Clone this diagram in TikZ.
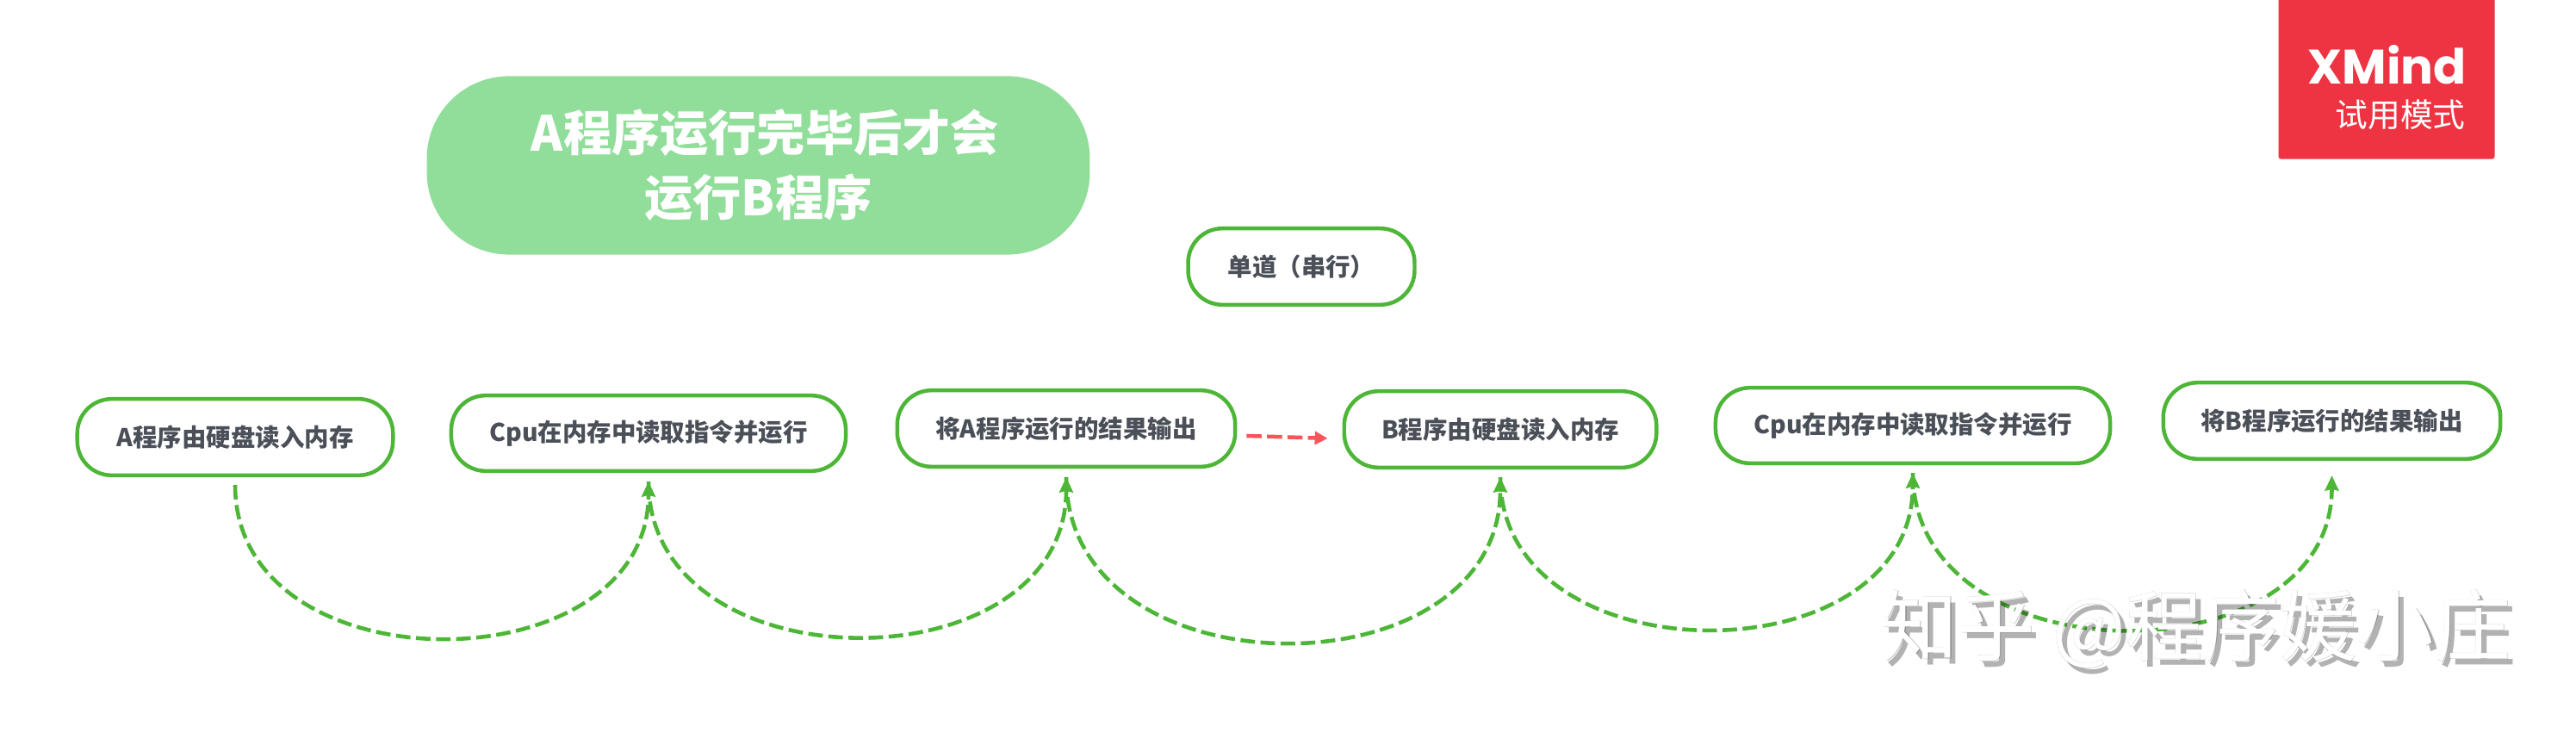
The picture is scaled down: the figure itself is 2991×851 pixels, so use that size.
\documentclass[tikz,border=0pt]{standalone}
\usepackage{fontspec}
\usetikzlibrary{arrows.meta}
\setmainfont{Noto Sans CJK SC}
\newfontfamily\xmfont{Poppins}
\newfontfamily\wmedgefont[FakeBold=0.5]{Noto Sans CJK SC}
\definecolor{grn}{HTML}{4DB637}
\definecolor{lgrn}{HTML}{91DE9A}
\definecolor{txt}{HTML}{4A4F58}
\definecolor{redl}{HTML}{F9545A}
\definecolor{xmr}{HTML}{EE3342}
\def\px{0.5669pt}
\tikzset{
  pill/.style={draw=grn,line width=4.5*\px,rounded corners=40*\px,fill=white,inner sep=0pt,
    text=txt,font=\fontsize{16.2pt}{22pt}\selectfont\bfseries,align=center},
  toptitle/.style={fill=lgrn,rounded corners=96*\px,inner sep=0pt,text=white,
    font=\fontsize{32pt}{42.6pt}\selectfont\bfseries,align=center,minimum width=773*\px,minimum height=208*\px},
  flow/.style={draw=grn,line width=4.6*\px,dash pattern=on 9.6pt off 3.7pt,-{Stealth[length=10pt,width=9pt,inset=1pt]}},
  redflow/.style={draw=redl,line width=4.5*\px,dash pattern=on 10pt off 3.5pt,-{Stealth[length=8.5pt,width=8.5pt,inset=0pt]}},
  mark box/.style={fill=xmr,rounded corners=3*\px,inner sep=0pt,minimum width=252*\px,minimum height=190*\px},
  wm/.style={inner sep=0pt,font=\fontsize{51pt}{51pt}\selectfont},
}
\begin{document}
\begin{tikzpicture}[x=0.02cm,y=-0.02cm]
\useasboundingbox (0,0) rectangle (2991,851);
% title and label
\node[toptitle] (title) at (880.5,192) {\hspace*{16\dimexpr\px\relax}A程序运行完毕后才会\\运行B程序};
\node[pill,minimum width=264*\px,minimum height=89*\px] (mode) at (1511,309.5) {单道（串行）};
% steps
\node[pill,minimum width=368*\px,minimum height=89*\px] (n1) at (273,507.5) {A程序由硬盘读入内存};
\node[pill,minimum width=460*\px,minimum height=88*\px] (n2) at (753,503) {Cpu在内存中读取指令并运行};
\node[pill,minimum width=394*\px,minimum height=89*\px] (n3) at (1238,497.5) {将A程序运行的结果输出};
\node[pill,minimum width=364*\px,minimum height=89*\px] (n4) at (1742,498.5) {B程序由硬盘读入内存};
\node[pill,minimum width=460*\px,minimum height=88*\px] (n5) at (2221,494) {Cpu在内存中读取指令并运行};
\node[pill,minimum width=393*\px,minimum height=89*\px] (n6) at (2707.5,488.5) {将B程序运行的结果输出};
% connectors
\draw[flow] ([yshift=-9*\px]n1.south) .. controls +(0,239) and +(0,239) .. ([yshift=-10*\px]n2.south);
\draw[flow] ([yshift=-10*\px]n2.south) .. controls +(0,241) and +(0,245) .. ([yshift=-10*\px]n3.south);
\draw[flow] ([yshift=-10*\px]n3.south) .. controls +(0,255) and +(0,255) .. ([yshift=-9*\px]n4.south);
\draw[flow] ([yshift=-9*\px]n4.south) .. controls +(0,235) and +(0,241) .. ([yshift=-9*\px]n5.south);
\draw[flow] ([yshift=-9*\px]n5.south) .. controls +(0,241) and +(0,239) .. ([yshift=-17*\px]n6.south);
\draw[redflow] ([xshift=11*\px,yshift=-8.5*\px]n3.east) -- ([xshift=-17*\px,yshift=-10.5*\px]n4.west);
% watermark: outline, drop shadow, white face
\node[wm,text=black!22,font=\fontsize{51pt}{51pt}\selectfont\wmedgefont] (wmedge) at (2550,730) {知乎 @程序媛小庄};
\node[wm,text=black,text opacity=0.3] (wmshadow) at (2556,737) {知乎 @程序媛小庄};
\node[wm,text=white] (wmfront) at (2550,730) {知乎 @程序媛小庄};
% badge
\node[mark box] (badge) at (2771,90) {};
\node[inner sep=0pt,text=white,font=\xmfont\fontsize{32pt}{32pt}\selectfont\bfseries,anchor=base east] (xm) at (2864,98) {XMind};
\node[inner sep=0pt,text=white,font=\fontsize{21.5pt}{21.5pt}\selectfont,anchor=base east] (trial) at (2863,148) {试用模式};
\end{tikzpicture}
\end{document}
